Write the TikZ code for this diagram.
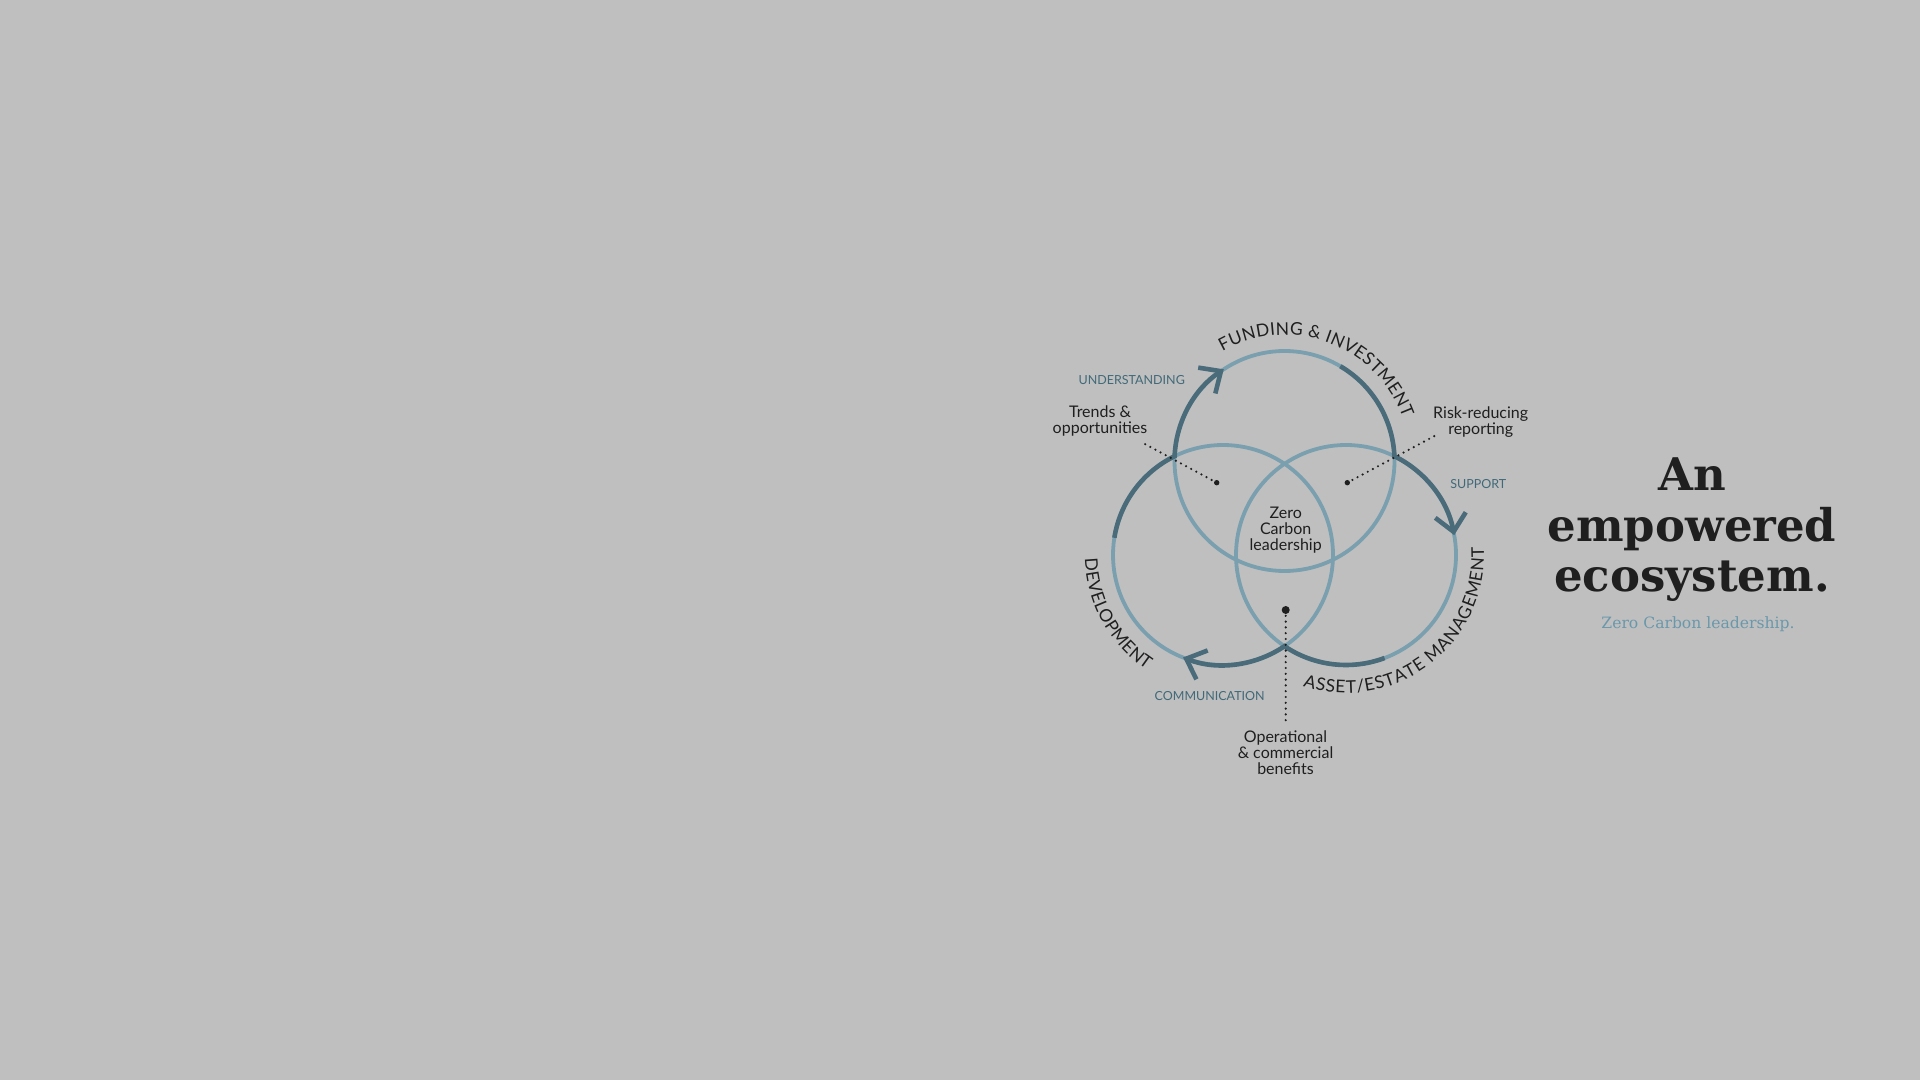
\documentclass[tikz,border=0pt]{standalone}
\usepackage{fontspec}
\setmainfont{Lato}
\newfontfamily\titlefont{DejaVu Serif}
\usetikzlibrary{arrows.meta,decorations.text}
\definecolor{bg}{HTML}{BFBFBF}
\definecolor{lightc}{HTML}{7AA0AF}
\definecolor{darkc}{HTML}{4A6C7A}
\definecolor{labelblue}{HTML}{416978}
\definecolor{ink}{HTML}{1F1F1F}
\definecolor{subc}{HTML}{6A98AB}
\begin{document}
\begin{tikzpicture}[x=1pt,y=1pt,
  ring/.style={draw=lightc, line width=3.8pt},
  flow/.style={draw=darkc, line width=4.6pt, -{Straight Barb[length=17pt,width=31pt]}},
  lab/.style={text=ink, align=center, font=\fontsize{16pt}{16pt}\selectfont, inner sep=0pt},
  smallcap/.style={text=labelblue, font=\fontsize{12.5pt}{14pt}\selectfont, inner sep=0pt},
  leader/.style={draw=ink, line width=2.4pt, line cap=round, dash pattern=on 0pt off 5.8pt},
  dotpin/.style={circle, fill=ink, inner sep=0pt, minimum size=#1},
  ringtext/.style={decorate, decoration={text along path, text align=fit to path, text color=ink,
     text={|\fontsize{17.5pt}{18pt}\selectfont|#1}}},
  titletext/.style={text=ink, anchor=base, inner sep=0pt, font=\titlefont\bfseries\fontsize{45pt}{50pt}\selectfont}
]
\fill[bg] (0,0) rectangle (1920,1080);
\useasboundingbox (0,0) rectangle (1920,1080);

% circle centres
\coordinate (T) at (1284.5,619);
\coordinate (L) at (1223,525);
\coordinate (R) at (1346,525);

% light rings
\draw[ring] (T) circle[radius=110];
\draw[ring] (L) circle[radius=110];
\draw[ring] (R) circle[radius=110];

% dark flow arcs with arrows
\draw[flow] ([shift={(171:110)}]L) arc[start angle=171, end angle=116.1, radius=110]
            arc[start angle=177.5, end angle=123.5, radius=110];
\draw[flow] ([shift={(59.5:110)}]T) arc[start angle=59.5, end angle=2.5, radius=110]
            arc[start angle=63.9, end angle=10.4, radius=110];
\draw[flow] ([shift={(-69.5:110)}]R) arc[start angle=-69.5, end angle=-124, radius=110]
            arc[start angle=-56, end angle=-111.3, radius=110];

% curved labels
\path[ringtext={FUNDING {\&} INVESTMENT}] ([shift={(119.5:126)}]T) arc[start angle=119.5, end angle=20, radius=126];
\path[ringtext={DEVELOPMENT}] ([shift={(181.4:138)}]L) arc[start angle=181.4, end angle=236.4, radius=138];
\path[ringtext={ASSET/ESTATE MANAGEMENT}] ([shift={(251.8:138)}]R) arc[start angle=251.8, end angle=363.2, radius=138];

% small caps labels
\node[smallcap] (und) at (1131.7,700) {UNDERSTANDING};
\node[smallcap] (sup) at (1478.3,595.7) {SUPPORT};
\node[smallcap] (com) at (1209.7,384) {COMMUNICATION};

% text labels
\node[lab] (trends) at (1100,659) {Trends \&\\opportunities};
\node[lab] (risk) at (1480.7,658) {Risk-reducing\\reporting};
\node[lab] (zero) at (1285.7,550.2) {Zero\\Carbon\\leadership};
\node[lab] (ops) at (1285.5,327.8) {Operational\\\& commercial\\benefits};

% pins and leaders
\node[dotpin=5.4pt] (p1) at (1216.7,597.3) {};
\node[dotpin=5.4pt] (p2) at (1347.3,597.3) {};
\node[dotpin=8pt] (p3) at (1285.7,470) {};
\coordinate (e1) at (1141.7,637.7);
\coordinate (e2) at (1438.3,646);
\coordinate (e3) at (1285.7,358.3);
\draw[leader] (p1.center) -- (e1);
\draw[leader] (p2.center) -- (e2);
\draw[leader] (p3.center) -- (e3);

% title
\node[titletext] (t1) at (1692,589) {An};
\node[titletext] (t2) at (1692,538.3) {empowered};
\node[titletext] (t3) at (1692,488.3) {ecosystem.};
\node[text=subc, anchor=base, inner sep=0pt, font=\titlefont\fontsize{15.6pt}{18pt}\selectfont] (sub) at (1698,451) {Zero Carbon leadership.};
\end{tikzpicture}
\end{document}
